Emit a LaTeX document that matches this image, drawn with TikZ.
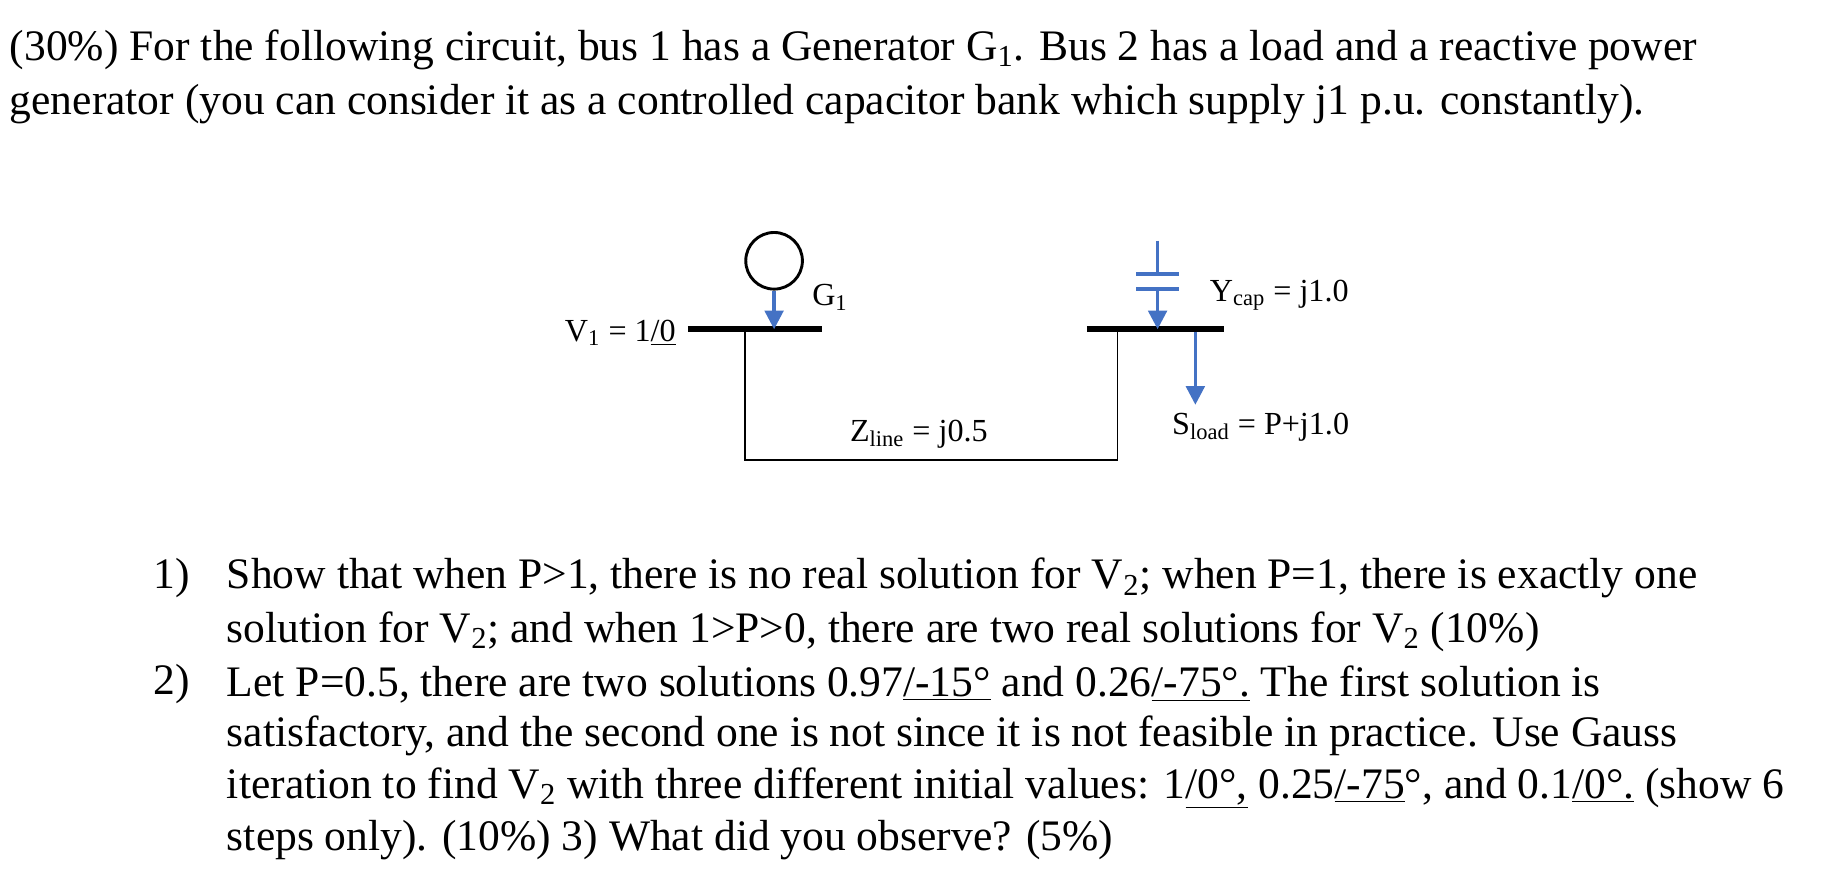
\documentclass[tikz,border=0pt]{standalone}
\usepackage{fontspec}
\setmainfont{Liberation Serif}
\usetikzlibrary{arrows.meta,calc}
\begin{document}
\begin{tikzpicture}[x=0.02cm,y=-0.02cm,
  txt/.style={anchor=west,inner sep=0pt,font=\fontsize{21}{24}\selectfont},
  lbl/.style={inner sep=0pt,font=\fontsize{15.5}{18}\selectfont},
  wire/.style={line width=0.9pt},
  bus/.style={line width=3pt},
  barrow/.style={draw={rgb,255:red,68;green,114;blue,196},line width=1.6pt,-{Triangle[length=9pt,width=9pt]}}]
\useasboundingbox (0,0) rectangle (1550,738);
\node[txt] (t1) at (8,42) {(30\%) For the following circuit, bus 1 has a Generator G\textsubscript{1}. Bus 2 has a load and a reactive power};
\node[txt] (t2) at (8,88) {generator (you can consider it as a controlled capacitor bank which supply j1 p.u. constantly).};
% bus 1
\coordinate (b1l) at (583,279); \coordinate (b1r) at (697,279);
\draw[bus] (b1l) -- (b1r);
\node[draw,circle,line width=1.4pt,minimum size=0.96cm,inner sep=0pt] (g1) at (656,221) {};
\coordinate (g1b) at (656,279);
\draw[barrow] (g1.south) -- (g1b);
\node[lbl,anchor=west] (g1l) at (688,252) {G\textsubscript{1}};
\node[lbl,anchor=east] (v1) at (573,282) {V\textsubscript{1} = 1\underline{/0}};
% bus 2
\coordinate (b2l) at (921,279); \coordinate (b2r) at (1037,279);
\draw[bus] (b2l) -- (b2r);
\coordinate (ct) at (981,204); \coordinate (p1) at (981,232); \coordinate (p2) at (981,245); \coordinate (cb) at (981,279);
\draw[draw={rgb,255:red,68;green,114;blue,196},line width=1.3pt] (ct) -- (p1);
\draw[draw={rgb,255:red,68;green,114;blue,196},line width=2pt] ($(p1)+(-18,0)$) -- ($(p1)+(18,0)$);
\draw[draw={rgb,255:red,68;green,114;blue,196},line width=2pt] ($(p2)+(-18,0)$) -- ($(p2)+(18,0)$);
\draw[barrow] (p2) -- (cb);
\coordinate (la) at (1013,281); \coordinate (lb) at (1013,343);
\draw[barrow] (la) -- (lb);
\node[lbl,anchor=west] (yc) at (1025,250) {Y\textsubscript{cap} = j1.0};
\node[lbl,anchor=west] (sl) at (993,362) {S\textsubscript{load} = P+j1.0};
% line
\coordinate (w1) at (631,279); \coordinate (w2) at (631,390); \coordinate (w3) at (947,390); \coordinate (w4) at (947,279);
\draw[wire] (w1) -- (w2) -- (w3) -- (w4);
\node[lbl,anchor=west] (zl) at (720,368) {Z\textsubscript{line} = j0.5};
% questions
\node[txt] (n1) at (130,490) {1)};
\node[txt] (q1) at (192,490) {Show that when P>1, there is no real solution for V\textsubscript{2}; when P=1, there is exactly one};
\node[txt] (q2) at (192,535) {solution for V\textsubscript{2}; and when 1>P>0, there are two real solutions for V\textsubscript{2} (10\%)};
\node[txt] (n2) at (130,580) {2)};
\node[txt] (q3) at (192,580) {Let P=0.5, there are two solutions 0.97\underline{/-15°} and 0.26\underline{/-75°.} The first solution is};
\node[txt] (q4) at (192,624) {satisfactory, and the second one is not since it is not feasible in practice. Use Gauss};
\node[txt] (q5) at (192,668) {iteration to find V\textsubscript{2} with three different initial values: 1\underline{/0°,} 0.25\underline{/-75}°, and 0.1\underline{/0°.} (show 6};
\node[txt] (q6) at (192,712) {steps only). (10\%) 3) What did you observe? (5\%)};
\end{tikzpicture}
\end{document}
